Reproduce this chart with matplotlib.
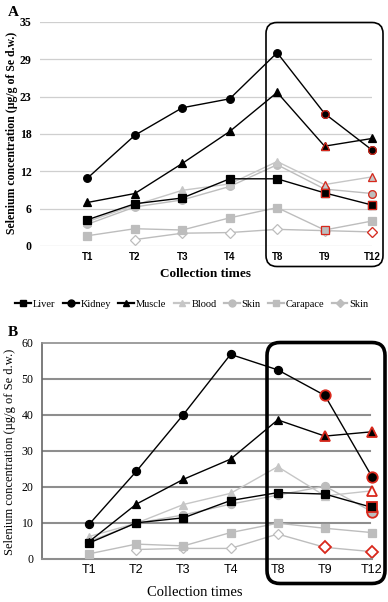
import numpy as np
import matplotlib
matplotlib.use("Agg")
from matplotlib import pyplot as plt
from matplotlib.lines import Line2D
from matplotlib.patches import FancyBboxPatch
from matplotlib.transforms import Affine2D

W, H = 388, 602

times = ["T1", "T2", "T3", "T4", "T8", "T9", "T12"]
nan = np.nan

# panel A
liver_a = [4.1, 6.6, 7.5, 10.5, 10.5, 8.3, 6.4]
kidney_a = [10.6, 17.3, 21.6, 23.0, 30.2, 20.7, 15.0]
muscle_a = [6.8, 8.2, 12.9, 17.9, 24.0, 15.6, 16.8]
blood_a = [3.8, 6.4, 8.7, 9.7, 13.2, 9.6, 10.8]
skin_a = [3.4, 6.1, 7.2, 9.3, 12.7, 8.9, 8.2]
carapace_a = [1.6, 2.7, 2.5, 4.4, 6.0, 2.5, 3.9]
skin2_a = [nan, 1.0, 2.0, 2.1, 2.6, 2.4, 2.2]
yticks_a = ["0", "6", "12", "18", "23", "29", "35"]

# panel B
liver_b = [4.3, 9.9, 11.3, 16.1, 18.3, 17.9, 14.2]
kidney_b = [9.5, 24.2, 40.0, 56.7, 52.4, 45.3, 22.7]
muscle_b = [4.7, 15.1, 22.0, 27.6, 38.5, 34.0, 35.2]
blood_b = [6.1, 9.8, 15.0, 18.1, 25.5, 17.4, 18.8]
skin_b = [4.7, 9.8, 12.1, 15.1, 17.6, 20.1, 13.0]
carapace_b = [1.3, 4.0, 3.5, 7.2, 9.8, 8.4, 7.2]
skin2_b = [nan, 2.5, 2.8, 2.8, 6.8, 3.1, 1.9]
yticks_b = ["0", "10", "20", "30", "40", "50", "60"]

# which points are outlined in red (index into times)
red_a = {"liver": [5, 6], "kidney": [5, 6], "muscle": [5], "blood": [5, 6],
         "skin": [5, 6], "carapace": [5], "skin2": [6]}
red_b = {"liver": [6], "kidney": [5, 6], "muscle": [5, 6], "blood": [6],
         "skin": [6], "carapace": [], "skin2": [5, 6]}
hollow_b = ["blood"]

serif = "Liberation Serif"
sans = "Liberation Sans"

styles = {
    "liver": dict(marker="s", color="black", mfc="black", z=6),
    "kidney": dict(marker="o", color="black", mfc="black", z=7),
    "muscle": dict(marker="^", color="black", mfc="black", z=7),
    "blood": dict(marker="^", color="#c6c6c6", mfc="#c6c6c6", z=3),
    "skin": dict(marker="o", color="#bdbdbd", mfc="#bdbdbd", z=3),
    "carapace": dict(marker="s", color="#bdbdbd", mfc="#bdbdbd", z=3),
    "skin2": dict(marker="D", color="#bdbdbd", mfc="white", z=2),
}

fig = plt.figure(figsize=(W / 100, H / 100), dpi=100)
px = Affine2D().scale(1 / W, -1 / H).translate(0, 1) + fig.transFigure


def axes_px(left, top, right, bottom):
    return fig.add_axes([left / W, 1 - bottom / H, (right - left) / W, (bottom - top) / H])


x = np.arange(1, 8)


def draw(ax, series, reds, ms, big, hollow=()):
    for name, vals in series:
        st = styles[name]
        msz = ms * (0.85 if st["marker"] == "D" else 1.0)
        ax.plot(x, vals, color=st["color"], lw=1.0, marker=st["marker"], ms=msz,
                mfc=st["mfc"], mec=st["color"], mew=0.9, zorder=st["z"], clip_on=False)
        idx = reds[name]
        if idx:
            vv = np.array(vals)[idx]
            fill = "white" if name in hollow else st["mfc"]
            ax.plot(x[idx], vv, ls="none", marker=st["marker"], ms=msz * big,
                    mfc=fill, mec="#d9281c", mew=1.3 if big > 1 else 0.9,
                    zorder=st["z"] + 0.5, clip_on=False)


# ---------- panel A ----------
axa = axes_px(40, 22, 372, 246)
axa.set_xlim(0, 7)
axa.set_ylim(0, 35)
ya = np.linspace(0, 35, 7)
for v in ya:
    axa.axhline(v, color="#cfcfcf", lw=0.9, zorder=0, xmax=1.003)
for s in axa.spines.values():
    s.set_visible(False)
axa.set_yticks(ya)
axa.set_yticklabels(yticks_a, fontfamily=serif, fontweight="bold", fontsize=8.5)
axa.set_xticks(x)
axa.set_xticklabels(times, fontfamily=sans, fontweight="bold", fontsize=7)
axa.tick_params(length=0)
axa.tick_params(axis="y", pad=6)
axa.tick_params(axis="x", pad=4)
draw(axa, [("skin2", skin2_a), ("carapace", carapace_a), ("skin", skin_a), ("blood", blood_a),
           ("liver", liver_a), ("muscle", muscle_a), ("kidney", kidney_a)], red_a, 5.5, 1.0)

fig.text(8, 12, "A", transform=px, fontfamily=serif, fontweight="bold", fontsize=11, va="center")
fig.text(12, 133, "Selenium concentration (µg/g of Se d.w.)", transform=px, rotation=90,
         fontfamily=serif, fontweight="bold", fontsize=8.5, ha="center", va="center")
fig.text(206, 274, "Collection times", transform=px, fontfamily=serif, fontweight="bold",
         fontsize=9.5, ha="center", va="center")
fig.patches.append(FancyBboxPatch((266, 22.5), 117, 244, boxstyle="round,pad=0,rounding_size=11",
                                  transform=px, fill=False, ec="black", lw=1.2, zorder=10))

leg_names = ["Liver", "Kidney", "Muscle", "Blood", "Skin", "Carapace", "Skin"]
leg_keys = ["liver", "kidney", "muscle", "blood", "skin", "carapace", "skin2"]
handles = []
for k in leg_keys:
    st = styles[k]
    mfc = st["color"] if k == "skin2" else st["mfc"]
    handles.append(Line2D([], [], color=st["color"], lw=1.6, marker=st["marker"],
                          ms=5 if k != "skin2" else 4, mfc=mfc, mec=st["color"]))
fig.legend(handles, leg_names, loc="center", bbox_to_anchor=(192 / W, 1 - 304 / H), ncol=7,
           frameon=False, handlelength=1.5, handletextpad=0.2, columnspacing=0.7,
           prop=dict(family=serif, size=7.5), borderaxespad=0)

# ---------- panel B ----------
axb = axes_px(42, 342.5, 372, 558.5)
axb.set_xlim(0, 7)
axb.set_ylim(0, 60)
yb = np.arange(0, 61, 10)
for v in yb[1:-1]:
    axb.axhline(v, color="#8e8e8e", lw=1.5, zorder=0, xmin=0, xmax=0.995)
axb.spines["right"].set_visible(False)
axb.spines["left"].set_color("#666666")
axb.spines["left"].set_linewidth(1.2)
axb.spines["top"].set_color("#8e8e8e")
axb.spines["top"].set_linewidth(1.2)
axb.spines["bottom"].set_color("#8e8e8e")
axb.spines["bottom"].set_linewidth(1.5)
axb.set_yticks(yb)
axb.set_yticklabels(yticks_b, fontfamily=serif, fontsize=8.5)
axb.set_xticks(x)
axb.set_xticklabels(times, fontfamily=sans, fontsize=9)
axb.tick_params(length=0)
axb.tick_params(axis="y", pad=6)
axb.tick_params(axis="x", pad=4)
draw(axb, [("skin2", skin2_b), ("carapace", carapace_b), ("skin", skin_b), ("blood", blood_b),
           ("liver", liver_b), ("muscle", muscle_b), ("kidney", kidney_b)], red_b, 5.8, 1.3,
     hollow=hollow_b)

fig.text(8, 332, "B", transform=px, fontfamily=serif, fontweight="bold", fontsize=11, va="center")
fig.text(10, 452, "Selenium concentration (µg/g of Se d.w.)", transform=px, rotation=90,
         fontfamily=serif, fontsize=9, ha="center", va="center")
fig.text(195, 593, "Collection times", transform=px, fontfamily=serif, fontsize=10.5,
         ha="center", va="center")
fig.patches.append(FancyBboxPatch((267, 342.5), 118, 241, boxstyle="round,pad=0,rounding_size=13",
                                  transform=px, fill=False, ec="black", lw=2.6, zorder=10))

fig.savefig("out.png", dpi=100)
